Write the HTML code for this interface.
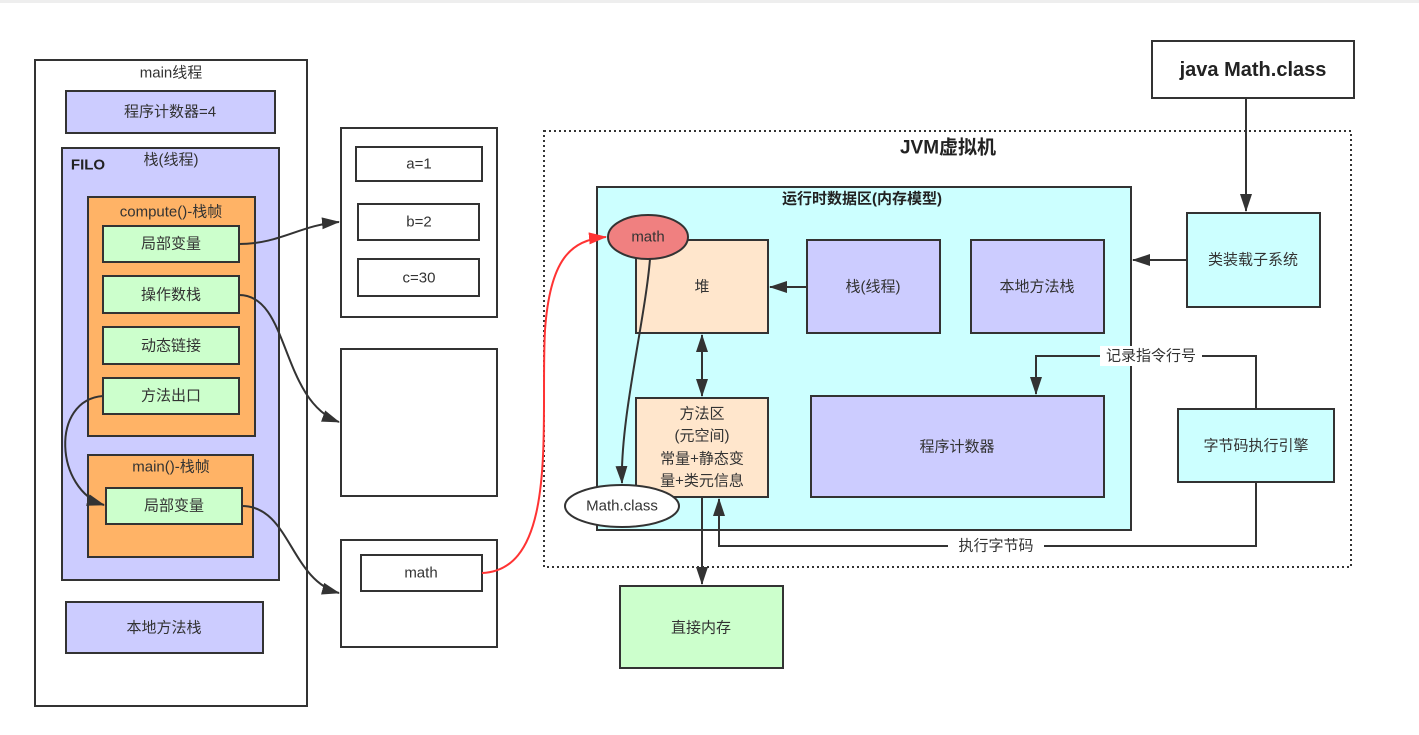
<!DOCTYPE html>
<html><head><meta charset="utf-8"><style>
html,body{margin:0;padding:0;background:#fff;}
svg{display:block;}
text{font-family:"Liberation Sans","Noto Sans CJK SC",sans-serif;font-size:15px;fill:#333;text-anchor:middle;dominant-baseline:central;}
.b{font-weight:bold;fill:#222;}
</style></head><body>
<svg width="1419" height="735" viewBox="0 0 1419 735" xmlns="http://www.w3.org/2000/svg">
<defs>
<marker id="a" markerWidth="18" markerHeight="12" refX="17" refY="6" orient="auto" markerUnits="userSpaceOnUse"><path d="M0,0 L18,6 L0,12 Z" fill="#333"/></marker>
<marker id="as" markerWidth="18" markerHeight="12" refX="1" refY="6" orient="auto" markerUnits="userSpaceOnUse"><path d="M18,0 L0,6 L18,12 Z" fill="#333"/></marker>
<marker id="r" markerWidth="18" markerHeight="12" refX="17" refY="6" orient="auto" markerUnits="userSpaceOnUse"><path d="M0,0 L18,6 L0,12 Z" fill="#f33"/></marker>
</defs>
<rect x="0" y="0" width="1419" height="3" fill="#eee"/>
<g stroke="#333" stroke-width="2">
<rect x="35" y="60" width="272" height="646" fill="#fff"/>
<rect x="66" y="91" width="209" height="42" fill="#ccccff"/>
<rect x="62" y="148" width="217" height="432" fill="#ccccff"/>
<rect x="88" y="197" width="167" height="239" fill="#ffb366"/>
<rect x="103" y="226" width="136" height="36" fill="#ccffcc"/>
<rect x="103" y="276" width="136" height="37" fill="#ccffcc"/>
<rect x="103" y="327" width="136" height="37" fill="#ccffcc"/>
<rect x="103" y="378" width="136" height="36" fill="#ccffcc"/>
<rect x="88" y="455" width="165" height="102" fill="#ffb366"/>
<rect x="106" y="488" width="136" height="36" fill="#ccffcc"/>
<rect x="66" y="602" width="197" height="51" fill="#ccccff"/>
<rect x="341" y="128" width="156" height="189" fill="#fff"/>
<rect x="356" y="147" width="126" height="34" fill="#fff"/>
<rect x="358" y="204" width="121" height="36" fill="#fff"/>
<rect x="358" y="259" width="121" height="37" fill="#fff"/>
<rect x="341" y="349" width="156" height="147" fill="#fff"/>
<rect x="341" y="540" width="156" height="107" fill="#fff"/>
<rect x="361" y="555" width="121" height="36" fill="#fff"/>
<rect x="1152" y="41" width="202" height="57" fill="#fff"/>
</g>
<rect x="544" y="131" width="807" height="436" fill="none" stroke="#333" stroke-width="2" stroke-dasharray="2,3"/>
<g stroke="#333" stroke-width="2">
<rect x="597" y="187" width="534" height="343" fill="#ccffff"/>
<rect x="636" y="240" width="132" height="93" fill="#ffe6cc"/>
<rect x="807" y="240" width="133" height="93" fill="#ccccff"/>
<rect x="971" y="240" width="133" height="93" fill="#ccccff"/>
<rect x="636" y="398" width="132" height="99" fill="#ffe6cc"/>
<rect x="811" y="396" width="293" height="101" fill="#ccccff"/>
<rect x="1187" y="213" width="133" height="94" fill="#ccffff"/>
<rect x="1178" y="409" width="156" height="73" fill="#ccffff"/>
<rect x="620" y="586" width="163" height="82" fill="#ccffcc"/>
</g>
<g fill="none" stroke="#333" stroke-width="2">
<path d="M1246,98 V211" marker-end="url(#a)"/>
<path d="M1187,260 H1133" marker-end="url(#a)"/>
<path d="M807,287 H770" marker-end="url(#a)"/>
<path d="M702,335 V396" marker-start="url(#as)" marker-end="url(#a)"/>
<path d="M1256,409 V356 H1036 V394" marker-end="url(#a)"/>
<path d="M1256,482 V546 H719 V499" marker-end="url(#a)"/>
<path d="M702,497 V584" marker-end="url(#a)"/>
<path d="M650,259 C645,320 620,420 622,483" marker-end="url(#a)"/>
<path d="M239,244 C280,244 300,225 339,222" marker-end="url(#a)"/>
<path d="M239,295 C290,295 280,400 339,422" marker-end="url(#a)"/>
<path d="M103,396 C50,400 55,490 104,505" marker-end="url(#a)"/>
<path d="M242,506 C290,506 290,580 339,593" marker-end="url(#a)"/>
</g>
<path d="M482,573 C560,570 540,420 545,330 C550,260 570,240 606,237" fill="none" stroke="#f33" stroke-width="2" marker-end="url(#r)"/>
<ellipse cx="648" cy="237" rx="40" ry="22" fill="#f08080" stroke="#333" stroke-width="2"/>
<ellipse cx="622" cy="506" rx="57" ry="21" fill="#fff" stroke="#333" stroke-width="2"/>
<rect x="1100" y="346" width="102" height="20" fill="#fff"/>
<rect x="948" y="536" width="96" height="20" fill="#fff"/>
<text x="171" y="73">main线程</text>
<text x="170" y="112">程序计数器=4</text>
<text x="88" y="165" class="b">FILO</text>
<text x="171" y="160">栈(线程)</text>
<text x="171" y="212">compute()-栈帧</text>
<text x="171" y="244">局部变量</text>
<text x="171" y="295">操作数栈</text>
<text x="171" y="346">动态链接</text>
<text x="171" y="396">方法出口</text>
<text x="171" y="467">main()-栈帧</text>
<text x="174" y="506">局部变量</text>
<text x="164" y="628">本地方法栈</text>
<text x="419" y="164">a=1</text>
<text x="419" y="222">b=2</text>
<text x="419" y="278">c=30</text>
<text x="421" y="573">math</text>
<text x="1253" y="70" class="b" style="font-size:20px">java Math.class</text>
<text x="948" y="148" class="b" style="font-size:19px">JVM虚拟机</text>
<text x="862" y="199" class="b">运行时数据区(内存模型)</text>
<text x="648" y="237">math</text>
<text x="702" y="287">堆</text>
<text x="873" y="287">栈(线程)</text>
<text x="1037" y="287">本地方法栈</text>
<text x="702" y="414">方法区</text>
<text x="702" y="436">(元空间)</text>
<text x="702" y="459">常量+静态变</text>
<text x="702" y="481">量+类元信息</text>
<text x="957" y="447">程序计数器</text>
<text x="1253" y="260">类装载子系统</text>
<text x="1256" y="446">字节码执行引擎</text>
<text x="1151" y="356">记录指令行号</text>
<text x="996" y="546">执行字节码</text>
<text x="622" y="506">Math.class</text>
<text x="701" y="628">直接内存</text>
</svg>
</body></html>
